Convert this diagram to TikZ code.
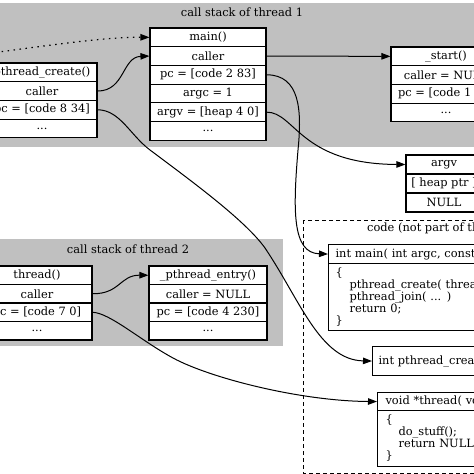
\documentclass[tikz,border=0pt]{standalone}
\usepackage{fontspec}
\setmainfont{DejaVu Serif}
\usepackage{tikz}
\usetikzlibrary{arrows.meta}
\definecolor{stackgray}{HTML}{C0C0C0}
\newcommand{\rowdots}{.{}.{}.}

\begin{document}
\begin{tikzpicture}[x=1pt,y=-1pt,
  font=\fontsize{11.4}{12}\selectfont,
  rowbox/.style={draw,fill=white,line width=1.1pt,minimum height=18.7pt,inner sep=0pt},
  codebox/.style={draw,fill=white,line width=1.1pt,anchor=north west,align=left,inner ysep=0pt},
  link/.style={line width=1pt,-{Triangle[length=9pt,width=6.5pt]}}]
\useasboundingbox (0,0) rectangle (474,474);
\clip (0,0) rectangle (474,474);
\fill[stackgray] (-20,3) rectangle (500,147);
\fill[stackgray] (-20,239) rectangle (283,346);
\node (stackone) at (242,12) {call stack of thread 1};
\node (stacktwo) at (128,249) {call stack of thread 2};
\draw[line width=1pt,dash pattern=on 4pt off 3pt] (303,220) rectangle (520,473);
\node[anchor=west,inner sep=0pt] (codetitle) at (367,228) {code (not part of the stack)};
\foreach \txt [count=\i] in {main(),caller,{pc = [code 2 83]},{argc = 1},{argv = [heap 4 0]},\rowdots}
  \node[rowbox,minimum width=116pt] (main\i) at (208,18.7*\i+18.65) {\txt};
\foreach \txt [count=\i] in {\_start(),{caller = NULL},{pc = [code 1 12]},\rowdots}
  \node[rowbox,minimum width=110pt] (start\i) at (446,18.7*\i+37.65) {\txt};
\foreach \txt [count=\i] in {pthread\_create(),caller,{pc = [code 8 34]},\rowdots}
  \node[rowbox,minimum width=110pt] (pcreate\i) at (42,18.7*\i+53.65) {\txt};
\foreach \txt [count=\i] in {argv,{[ heap ptr ]},NULL}
  \node[rowbox,minimum width=76pt,minimum height=19pt] (argv\i) at (444,19*\i+145.5) {\txt};
\foreach \txt [count=\i] in {thread(),caller,{pc = [code 7 0]},\rowdots}
  \node[rowbox,minimum width=110pt,minimum height=18.5pt] (thr\i) at (37,18.5*\i+256.75) {\txt};
\foreach \txt [count=\i] in {\_pthread\_entry(),{caller = NULL},{pc = [code 4 230]},\rowdots}
  \node[rowbox,minimum width=118pt,minimum height=18.5pt] (pentry\i) at (208,18.5*\i+256.75) {\txt};
\node[codebox,minimum width=300pt,minimum height=19pt,text width=286pt,inner xsep=7pt] (codemainH) at (328,244) {int main( int argc, const char *argv[] )};
\node[codebox,minimum width=300pt,minimum height=67pt,text width=286pt,inner xsep=7pt] (codemainB) at (328,263) {\{\\\hspace*{14pt}pthread\_create( thread, \rowdots{} )\\\hspace*{14pt}pthread\_join( \rowdots{} )\\\hspace*{14pt}return 0;\\\}};
\node[codebox,minimum width=200pt,minimum height=29pt,text width=188pt,inner xsep=6pt] (codepc) at (372,346) {int pthread\_create( \rowdots{} )};
\node[codebox,minimum width=200pt,minimum height=18pt,text width=184pt,inner xsep=8pt] (codethrH) at (377,392) {void *thread( void *arg )};
\node[codebox,minimum width=200pt,minimum height=56pt,text width=184pt,inner xsep=8pt] (codethrB) at (377,410) {\{\\\hspace*{13pt}do\_stuff();\\\hspace*{13pt}return NULL;\\\}};
\coordinate (caller0) at (-40,57);
\draw[link,line width=1.2pt,dash pattern=on 1.5pt off 4.5pt] (caller0) .. controls (40,47) and (100,37) .. (main1.west);
\draw[link] (pcreate2.east) .. controls (125,91) and (122,57) .. (main2.west);
\draw[link] (main2.east) -- (start1.west);
\draw[link] (pcreate3.east) .. controls (120,110) and (130,135) .. (150,150) .. controls (190,180) and (245,220) .. (265,248) .. controls (300,300) and (320,360) .. (codepc.west);
\draw[link] (main3.east) .. controls (300,75) and (302,110) .. (298,150) .. controls (293,210) and (292,253) .. (codemainH.west);
\draw[link] (main5.east) .. controls (295,112) and (300,164) .. (argv1.west);
\draw[link] (thr2.east) .. controls (120,294) and (120,275) .. (pentry1.west);
\draw[link] (thr3.east) .. controls (110,313) and (140,340) .. (173,358) .. controls (210,378) and (300,401) .. (codethrH.west);
\end{tikzpicture}
\end{document}
